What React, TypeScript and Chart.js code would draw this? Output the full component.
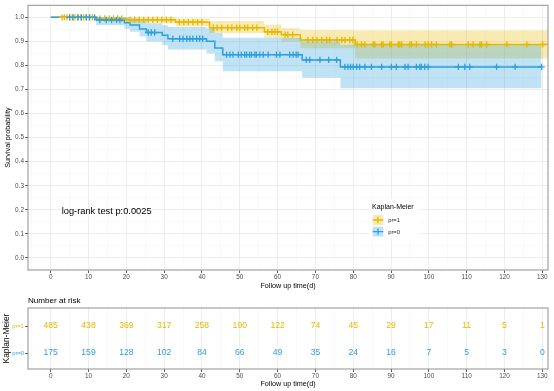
import React, { useEffect, useRef } from "react";
import { Chart, registerables } from "chart.js";

Chart.register(...registerables);

const FONT = "'Liberation Sans', Arial, Helvetica, sans-serif";
const YELLOW = "#E7B800";
const BLUE = "#2E9FDF";
const YELLOW_FILL = "rgba(231,184,0,0.3)";
const BLUE_FILL = "rgba(46,159,223,0.3)";
const TICK_TEXT = "#4D4D4D";

// ---- Kaplan-Meier estimates ----
const timesPr1 = [0, 12, 20, 33, 42, 56.5, 61, 66, 80.5];
const survPr1 = [1, 0.995, 0.99, 0.98, 0.957, 0.94, 0.928, 0.906, 0.887];
const lowerPr1 = [1, 0.985, 0.978, 0.962, 0.935, 0.915, 0.9, 0.872, 0.829];
const upperPr1 = [1, 1, 1, 0.995, 0.985, 0.97, 0.955, 0.947, 0.946];
const endPr1 = 131.5;

const timesPr0 = [0, 12, 19.5, 21, 23.5, 25.3, 29.5, 31, 41.2, 43.4, 45.5, 66.5, 76.6];
const survPr0 = [1, 0.989, 0.978, 0.968, 0.952, 0.937, 0.926, 0.911, 0.901, 0.873, 0.845, 0.823, 0.794];
const lowerPr0 = [1, 0.967, 0.953, 0.94, 0.92, 0.9, 0.885, 0.866, 0.85, 0.818, 0.776, 0.749, 0.705];
const upperPr0 = [1, 1, 1, 0.995, 0.985, 0.975, 0.967, 0.96, 0.955, 0.935, 0.915, 0.9, 0.887];
const endPr0 = 129.8;

// censoring times
const censorPr1 = [3, 3.6, 4.3, 5, 5.7, 6.4, 7.2, 8, 8.7, 9.4, 10.2, 11, 13, 14.3, 15.5, 16.6, 17.7, 18.8,
  21, 22.2, 23.4, 24.6, 25.8, 27, 28.2, 29.4, 30.6, 31.8, 34, 35.2, 36.4, 37.6, 38.8, 40, 43, 44, 45.2,
  46.8, 47.9, 49.2, 50, 51.3, 52.1, 53.4, 54.5, 57.4, 58.5, 59.3, 60, 62, 62.7, 64, 68, 69.3, 70.4, 71.7,
  73, 73.8, 75.7, 77, 77.8, 79.1, 79.9, 81, 82.2, 83.1, 85.3, 85.7, 87.5, 87.9, 89.7, 90.1, 91.9, 92.3,
  92.8, 95, 95.4, 96.7, 99, 99.8, 100.7, 102, 105.6, 106, 110.4, 111.7, 113.5, 113.9, 115.3, 120.6,
  125.9, 130.1];
const censorPr0 = [5, 5.9, 7.2, 8.1, 9.4, 10.3, 11.6, 13, 14.7, 16.1, 17.4, 18.3, 25.8, 26.6, 27.5, 32.3,
  34.1, 35, 36, 36.8, 37.6, 38.6, 39.4, 40.2, 46.5, 47.4, 48.2, 49.6, 50.4, 51.3, 51.8, 52.6, 53.1, 54,
  54.4, 55.3, 56.2, 57.5, 59.7, 60.6, 63.2, 64.1, 64.9, 65.4, 67.6, 68.5, 71.2, 73.5, 75.6, 77.8, 78.6,
  79.3, 80, 80.9, 81.7, 83.1, 84.8, 87.5, 90.1, 91.4, 93.7, 94.5, 96.7, 97.6, 98, 98.9, 99.8, 107.8,
  109.5, 110.8, 117.9, 122.8, 129.8];

// ---- Number at risk ----
const riskTimes = [0, 10, 20, 30, 40, 50, 60, 70, 80, 90, 100, 110, 120, 130];
const riskPr1 = [485, 438, 369, 317, 258, 190, 122, 74, 45, 29, 17, 11, 5, 1];
const riskPr0 = [175, 159, 128, 102, 84, 66, 49, 35, 24, 16, 7, 5, 3, 0];

const pValueText = "log-rank test p:0.0025";
const X_MIN = -6;
const X_MAX = 131.5;

function stepify(times: number[], values: number[], end: number) {
  const pts = [{ x: times[0], y: values[0] }];
  for (let i = 1; i < times.length; i++) {
    pts.push({ x: times[i], y: values[i - 1] });
    pts.push({ x: times[i], y: values[i] });
  }
  pts.push({ x: end, y: values[values.length - 1] });
  return pts;
}

function survAt(times: number[], values: number[], t: number) {
  let s = values[0];
  for (let i = 0; i < times.length; i++) if (times[i] <= t) s = values[i];
  return s;
}

const isMajorX = (v: number) => Math.abs(v / 10 - Math.round(v / 10)) < 1e-6;
const isMajorY = (v: number) => Math.abs(v * 10 - Math.round(v * 10)) < 1e-6;

const xGrid = (tickLen: number) => ({
  color: (c: any) => (c.tick && isMajorX(c.tick.value) ? "#EBEBEB" : "#F3F3F3"),
  lineWidth: (c: any) => (c.tick && isMajorX(c.tick.value) ? 0.9 : 0.5),
  tickLength: tickLen,
  tickColor: (c: any) => (c.tick && isMajorX(c.tick.value) ? "#333333" : "rgba(0,0,0,0)"),
  tickWidth: 0.8,
});

const xTicks = {
  stepSize: 5,
  includeBounds: false,
  autoSkip: false,
  maxRotation: 0,
  padding: 0,
  font: { family: FONT, size: 6.4 },
  color: TICK_TEXT,
  callback: (v: any) => (isMajorX(Number(v)) ? String(Math.round(Number(v))) : ""),
};

const borderPlugin = {
  id: "panelBorder",
  afterDatasetsDraw(chart: any) {
    const { ctx, chartArea: a } = chart;
    ctx.save();
    ctx.strokeStyle = "#9A9A9A";
    ctx.lineWidth = 1.1;
    ctx.strokeRect(a.left, a.top, a.right - a.left, a.bottom - a.top);
    ctx.restore();
  },
};

const annotationPlugin = {
  id: "kmAnnotations",
  afterDraw(chart: any) {
    const { ctx, chartArea: a, scales } = chart;
    ctx.save();
    // p-value
    ctx.font = `9.3px ${FONT}`;
    ctx.fillStyle = "#000";
    ctx.textAlign = "left";
    ctx.textBaseline = "middle";
    ctx.fillText(pValueText, scales.x.getPixelForValue(2.9), scales.y.getPixelForValue(0.195));

    // legend
    const lx = a.left + 341;
    const ly = a.top + 194;
    ctx.fillStyle = "#FFFFFF";
    ctx.fillRect(lx, ly, 50, 39);
    ctx.fillStyle = "#000";
    ctx.font = `7px ${FONT}`;
    ctx.fillText("Kaplan-Meier", lx + 3, ly + 8);
    const keys = [
      { label: "pr=1", fill: YELLOW_FILL, color: YELLOW },
      { label: "pr=0", fill: BLUE_FILL, color: BLUE },
    ];
    keys.forEach((k, i) => {
      const kx = lx + 3.7;
      const ky = ly + 15.7 + i * 11.6;
      ctx.fillStyle = k.fill;
      ctx.fillRect(kx, ky, 10.6, 10);
      const cx = kx + 5.3;
      const cy = ky + 5;
      ctx.strokeStyle = k.color;
      ctx.lineWidth = 1.3;
      ctx.beginPath();
      ctx.moveTo(kx, cy);
      ctx.lineTo(kx + 10.6, cy);
      ctx.moveTo(cx, cy - 3.2);
      ctx.lineTo(cx, cy + 3.2);
      ctx.moveTo(cx - 3.2, cy);
      ctx.lineTo(cx + 3.2, cy);
      ctx.stroke();
      ctx.fillStyle = "#1A1A1A";
      ctx.font = `5.8px ${FONT}`;
      ctx.fillText(k.label, kx + 15.5, cy + 0.5);
    });
    ctx.restore();
  },
};

function bandDatasets(times: number[], lo: number[], hi: number[], end: number, fill: string, order: number) {
  return [
    {
      data: stepify(times, hi, end),
      borderColor: "rgba(0,0,0,0)",
      borderWidth: 0,
      pointRadius: 0,
      fill: "+1",
      backgroundColor: fill,
      order,
    },
    {
      data: stepify(times, lo, end),
      borderColor: "rgba(0,0,0,0)",
      borderWidth: 0,
      pointRadius: 0,
      fill: false,
      order,
    },
  ];
}

function mainConfig(): any {
  return {
    type: "line",
    data: {
      datasets: [
        ...bandDatasets(timesPr1, lowerPr1, upperPr1, endPr1, YELLOW_FILL, 10),
        ...bandDatasets(timesPr0, lowerPr0, upperPr0, endPr0, BLUE_FILL, 9),
        {
          data: stepify(timesPr1, survPr1, endPr1),
          borderColor: YELLOW,
          borderWidth: 1.5,
          pointRadius: 0,
          fill: false,
          order: 5,
        },
        {
          data: stepify(timesPr0, survPr0, endPr0),
          borderColor: BLUE,
          borderWidth: 1.5,
          pointRadius: 0,
          fill: false,
          order: 4,
        },
        {
          data: censorPr1.map((t) => ({ x: t, y: survAt(timesPr1, survPr1, t) })),
          showLine: false,
          pointStyle: "cross",
          pointRadius: 3.2,
          borderColor: YELLOW,
          borderWidth: 1.3,
          order: 3,
        },
        {
          data: censorPr0.map((t) => ({ x: t, y: survAt(timesPr0, survPr0, t) })),
          showLine: false,
          pointStyle: "cross",
          pointRadius: 3.2,
          borderColor: BLUE,
          borderWidth: 1.3,
          order: 2,
        },
      ],
    },
    options: {
      responsive: false,
      devicePixelRatio: 1,
      animation: false,
      layout: { padding: { left: 0, right: 6, top: 3, bottom: 0 } },
      plugins: { legend: { display: false }, tooltip: { enabled: false }, title: { display: false } },
      elements: { line: { tension: 0 } },
      scales: {
        x: {
          type: "linear",
          min: X_MIN,
          max: X_MAX,
          grid: xGrid(3),
          border: { display: false },
          ticks: xTicks,
          title: {
            display: true,
            text: "Follow up time(d)",
            color: "#000",
            font: { family: FONT, size: 7.2 },
            padding: { top: 0, bottom: 2 },
          },
          afterFit: (s: any) => {
            s.height = 22;
          },
        },
        y: {
          type: "linear",
          min: -0.05,
          max: 1.05,
          grid: {
            color: (c: any) => (c.tick && isMajorY(c.tick.value) ? "#EBEBEB" : "#F3F3F3"),
            lineWidth: (c: any) => (c.tick && isMajorY(c.tick.value) ? 0.9 : 0.5),
            tickLength: 3,
            tickColor: (c: any) => (c.tick && isMajorY(c.tick.value) ? "#333333" : "rgba(0,0,0,0)"),
            tickWidth: 0.8,
          },
          border: { display: false },
          ticks: {
            stepSize: 0.05,
            includeBounds: false,
            autoSkip: false,
            padding: 1,
            font: { family: FONT, size: 6.4 },
            color: TICK_TEXT,
            callback: (v: any) => (isMajorY(Number(v)) ? Number(v).toFixed(1) : ""),
          },
          title: {
            display: true,
            text: "Survival probability",
            color: "#000",
            font: { family: FONT, size: 7.2 },
            padding: { top: 4, bottom: 0 },
          },
          afterFit: (s: any) => {
            s.width = 28;
          },
        },
      },
    },
    plugins: [borderPlugin, annotationPlugin],
  };
}

const riskPlugin = {
  id: "riskText",
  afterDatasetsDraw(chart: any) {
    const { ctx, chartArea: a } = chart;
    ctx.save();
    const rows = [
      { values: riskPr1, color: YELLOW },
      { values: riskPr0, color: BLUE },
    ];
    rows.forEach((r, i) => {
      const meta = chart.getDatasetMeta(i);
      ctx.fillStyle = r.color;
      ctx.font = `8.6px ${FONT}`;
      ctx.textAlign = "center";
      ctx.textBaseline = "middle";
      meta.data.forEach((pt: any, j: number) => {
        ctx.fillText(String(r.values[j]), pt.x, pt.y);
      });
    });
    ctx.fillStyle = "#000";
    ctx.font = `8.1px ${FONT}`;
    ctx.textAlign = "left";
    ctx.textBaseline = "middle";
    ctx.fillText("Number at risk", a.left, a.top - 7);
    ctx.restore();
  },
};

function riskConfig(): any {
  return {
    type: "line",
    data: {
      datasets: [
        { data: riskTimes.map((t) => ({ x: t, y: 1 })), showLine: false, pointRadius: 0 },
        { data: riskTimes.map((t) => ({ x: t, y: 0 })), showLine: false, pointRadius: 0 },
      ],
    },
    options: {
      responsive: false,
      devicePixelRatio: 1,
      animation: false,
      layout: { padding: { left: 0, right: 6, top: 16, bottom: 0 } },
      plugins: { legend: { display: false }, tooltip: { enabled: false }, title: { display: false } },
      scales: {
        x: {
          type: "linear",
          min: X_MIN,
          max: X_MAX,
          grid: xGrid(3),
          border: { display: false },
          ticks: xTicks,
          title: {
            display: true,
            text: "Follow up time(d)",
            color: "#000",
            font: { family: FONT, size: 7.2 },
            padding: { top: 0, bottom: 2.5 },
          },
          afterFit: (s: any) => {
            s.height = 22;
          },
        },
        y: {
          type: "linear",
          min: -0.592,
          max: 1.667,
          afterBuildTicks: (s: any) => {
            s.ticks = [{ value: 0 }, { value: 1 }];
          },
          grid: { drawOnChartArea: false, tickLength: 3, tickColor: "#333333", tickWidth: 0.8 },
          border: { display: false },
          ticks: {
            autoSkip: false,
            padding: 1,
            font: { family: FONT, size: 5.8 },
            color: (c: any) => (c.tick && c.tick.value === 1 ? YELLOW : BLUE),
            callback: (v: any) => (Number(v) === 1 ? "pr=1" : "pr=0"),
          },
          title: {
            display: true,
            text: "Kaplan-Meier",
            color: "#000",
            font: { family: FONT, size: 8.4 },
            padding: { top: 2, bottom: 0 },
          },
          afterFit: (s: any) => {
            s.width = 28;
          },
        },
      },
    },
    plugins: [borderPlugin, riskPlugin],
  };
}

export default function App() {
  const mainRef = useRef<HTMLCanvasElement>(null);
  const riskRef = useRef<HTMLCanvasElement>(null);
  useEffect(() => {
    const main = new Chart(mainRef.current as HTMLCanvasElement, mainConfig());
    const risk = new Chart(riskRef.current as HTMLCanvasElement, riskConfig());
    return () => {
      main.destroy();
      risk.destroy();
    };
  }, []);
  return (
    <div style={{ position: "absolute", left: 0, top: 0, width: 554, height: 391, background: "#fff" }}>
      <canvas ref={mainRef} width={554} height={292} style={{ display: "block", width: 554, height: 292 }} />
      <canvas ref={riskRef} width={554} height={99} style={{ display: "block", width: 554, height: 99 }} />
    </div>
  );
}
